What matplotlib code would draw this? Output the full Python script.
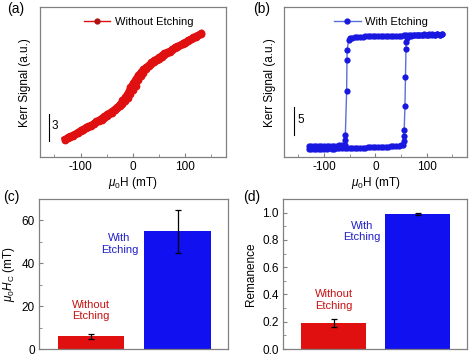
import numpy as np
import matplotlib
matplotlib.use('Agg')
import matplotlib.pyplot as plt
from matplotlib.lines import Line2D

plt.rcParams['font.family'] = ['Liberation Sans', 'DejaVu Sans']
plt.rcParams['mathtext.fontset'] = 'custom'
plt.rcParams['mathtext.rm'] = 'Liberation Sans'
plt.rcParams['mathtext.it'] = 'Liberation Sans:italic'
plt.rcParams['axes.unicode_minus'] = False

# (a) without etching: field sweep grid (mT) and both branches
field_a = list(range(-130, 135, 5))
kerr_a_up = [-6.1, -5.95, -5.8, -5.65, -5.5, -5.3, -5.1, -4.95, -4.8, -4.65, -4.5, -4.3, -4.1,
             -3.95, -3.8, -3.6, -3.4, -3.2, -3.0, -2.75, -2.5, -2.25, -2.0, -1.7, -1.3, -0.9,
             -0.4, 0.1, 0.7, 1.2, 1.6, 2.0, 2.3, 2.55, 2.8, 3.0, 3.2, 3.4, 3.6, 3.8, 4.0, 4.2,
             4.4, 4.55, 4.7, 4.85, 5.0, 5.2, 5.4, 5.55, 5.7, 5.85, 6.0]
kerr_a_down = [-6.0, -5.85, -5.7, -5.55, -5.4, -5.2, -5.0, -4.85, -4.7, -4.55, -4.4, -4.2, -4.0,
               -3.8, -3.6, -3.4, -3.2, -3.0, -2.8, -2.55, -2.3, -2.0, -1.6, -1.2, -0.7, -0.1,
               0.4, 0.9, 1.3, 1.7, 2.0, 2.25, 2.5, 2.75, 3.0, 3.2, 3.4, 3.6, 3.8, 3.95, 4.1, 4.3,
               4.5, 4.65, 4.8, 4.95, 5.1, 5.3, 5.5, 5.65, 5.8, 5.95, 6.1]

# (b) with etching: descending branch (+130 -> -130)
field_b_down = list(range(130, -55, -5)) + [-52, -55, -55.3, -56, -58.5, -59] + list(range(-60, -135, -5))
kerr_b_down = [10.3, 10.2, 10.3, 10.2, 10.2, 10.3, 10.2, 10.2, 10.1, 10.2, 10.2, 10.1, 10.1, 10.2, 10.1,
               10.1, 10.0, 10.0, 10.0, 10.0, 10.0, 10.0, 10.0, 9.9, 9.9, 9.9, 9.9, 9.9, 9.9, 9.9,
               9.9, 9.8, 9.8, 9.8, 9.7, 9.6, 9.5,
               9.3, 7.4, 5.7, 0.1, -7.8, -8.7,
               -9.5, -9.6, -9.6, -9.7, -9.7, -9.7, -9.7, -9.8, -9.8, -9.8, -9.8, -9.8, -9.8, -9.8, -9.8]
# ascending branch (-130 -> +130)
field_b_up = list(range(-130, 55, 5)) + [54, 55, 55.5, 56, 57.5, 58.5, 59.5, 60, 61] + list(range(65, 135, 5))
kerr_b_up = [-10.3, -10.2, -10.3, -10.2, -10.2, -10.3, -10.2, -10.2, -10.1, -10.2, -10.2, -10.1, -10.1,
             -10.1, -10.0, -10.0, -10.0, -10.0, -10.0, -10.0, -10.0, -10.0, -10.0, -9.9, -9.9, -9.9,
             -9.9, -9.9, -9.9, -9.9, -9.9, -9.9, -9.8, -9.8, -9.8, -9.7, -9.6,
             -9.5, -8.9, -8.0, -6.8, -2.6, 2.6, 7.7, 8.9, 9.6,
             9.9, 10.0, 10.1, 10.2, 10.1, 10.2, 10.3, 10.2, 10.2, 10.3, 10.2, 10.3, 10.2, 10.3]

# (c), (d) bar summaries
samples = ['Without\nEtching', 'With\nEtching']
coercivity = [6.0, 55.0]
coercivity_err = [1.2, 10.0]
remanence = [0.19, 0.99]
remanence_err = [0.03, 0.01]

red = '#e01010'
blue = '#1010f0'
spine_col = '#808080'
fs = 8.5

fig = plt.figure(figsize=(4.74, 3.57), dpi=100)
ax_a = fig.add_axes([0.084, 0.560, 0.393, 0.420])
ax_b = fig.add_axes([0.599, 0.560, 0.386, 0.420])
ax_c = fig.add_axes([0.082, 0.022, 0.399, 0.421])
ax_d = fig.add_axes([0.597, 0.022, 0.388, 0.421])

for ax in (ax_a, ax_b, ax_c, ax_d):
    for s in ax.spines.values():
        s.set_color(spine_col)
        s.set_linewidth(0.9)
    ax.tick_params(direction='in', which='both', colors=spine_col, labelcolor='black',
                   labelsize=fs, top=False, right=False, pad=3)
    ax.tick_params(which='major', length=3)
    ax.tick_params(which='minor', length=2)

# loops
ax_a.plot(field_a, kerr_a_up, '-o', color=red, lw=4.2, ms=4.6)
ax_a.plot(field_a, kerr_a_down, '-o', color=red, lw=4.2, ms=4.6)
ax_a.set_ylim(-8.1, 9.1)
ax_a.plot([-161, -161], [-6.2, -3.2], color='black', lw=0.8)
ax_a.text(-155, -4.5, '3', fontsize=fs, va='center')
h_a = Line2D([], [], color=red, marker='o', lw=1.0, ms=3.5, mfc='#b01010', mec='#b01010')

line_b = '#5a6fd8'
ax_b.plot(field_b_down, kerr_b_down, '-', color=line_b, lw=1.0)
ax_b.plot(field_b_up, kerr_b_up, '-', color=line_b, lw=1.0)
ax_b.plot(field_b_down, kerr_b_down, 'o', color='#1818e0', ms=4.5, mew=0)
ax_b.plot(field_b_up, kerr_b_up, 'o', color='#1818e0', ms=4.5, mew=0)
ax_b.set_ylim(-11.7, 15.1)
ax_b.plot([-158, -158], [-7.8, -2.8], color='black', lw=0.8)
ax_b.text(-152, -5.0, '5', fontsize=fs, va='center')
h_b = Line2D([], [], color=line_b, marker='o', lw=1.0, ms=3.5, mfc='#1818e0', mec='#1818e0')

for ax, h, lab in ((ax_a, h_a, 'Without Etching'), (ax_b, h_b, 'With Etching')):
    ax.set_xlim(-178, 178)
    ax.set_xticks([-100, 0, 100])
    ax.set_xticks([-150, -50, 50, 150], minor=True)
    ax.set_yticks([])
    ax.set_xlabel(r'$\mu_0$H (mT)', fontsize=fs, labelpad=1)
    ax.set_ylabel('Kerr Signal (a.u.)', fontsize=fs, labelpad=6)
    ax.legend([h], [lab], loc='upper center', frameon=False, fontsize=8, handlelength=2.4,
              handletextpad=0.4, borderaxespad=0.5, bbox_to_anchor=(0.53, 1.0))

# bars
x = np.arange(len(samples))
ax_c.bar(x, coercivity, width=0.77, color=[red, blue], yerr=coercivity_err, capsize=2.5,
         error_kw=dict(elinewidth=0.9, capthick=0.9, ecolor='black'))
ax_c.set_ylim(0, 70)
ax_c.set_yticks([0, 20, 40, 60])
ax_c.set_yticks([10, 30, 50, 70], minor=True)
ax_c.set_ylabel(r'$\mu_0H_\mathrm{C}$ (mT)', fontsize=fs, labelpad=3)
ax_c.text(0, 18, samples[0], color='#c81010', fontsize=8, ha='center', va='center')
ax_c.text(0.33, 49, samples[1], color='#2020c8', fontsize=8, ha='center', va='center')

ax_d.bar(x, remanence, width=0.77, color=[red, blue], yerr=remanence_err, capsize=2.5,
         error_kw=dict(elinewidth=0.9, capthick=0.9, ecolor='black'))
ax_d.set_ylim(0, 1.1)
ax_d.set_yticks([0, 0.2, 0.4, 0.6, 0.8, 1.0])
ax_d.set_yticks([0.1, 0.3, 0.5, 0.7, 0.9], minor=True)
ax_d.set_ylabel('Remanence', fontsize=fs, labelpad=4)
ax_d.text(0, 0.36, samples[0], color='#c81010', fontsize=8, ha='center', va='center')
ax_d.text(0.34, 0.86, samples[1], color='#2020c8', fontsize=8, ha='center', va='center')

for ax in (ax_c, ax_d):
    ax.set_xlim(-0.6, 1.58)
    ax.set_xticks([])

ax_c.yaxis.set_major_formatter(plt.FuncFormatter(lambda v, p: '%d' % v))
ax_d.yaxis.set_major_formatter(plt.FuncFormatter(lambda v, p: '%.1f' % v))

fig.text(0.015, 0.995, '(a)', fontsize=10, va='top')
fig.text(0.534, 0.995, '(b)', fontsize=10, va='top')
fig.text(0.006, 0.467, '(c)', fontsize=10, va='top')
fig.text(0.513, 0.467, '(d)', fontsize=10, va='top')

fig.savefig('out.png', dpi=100)
